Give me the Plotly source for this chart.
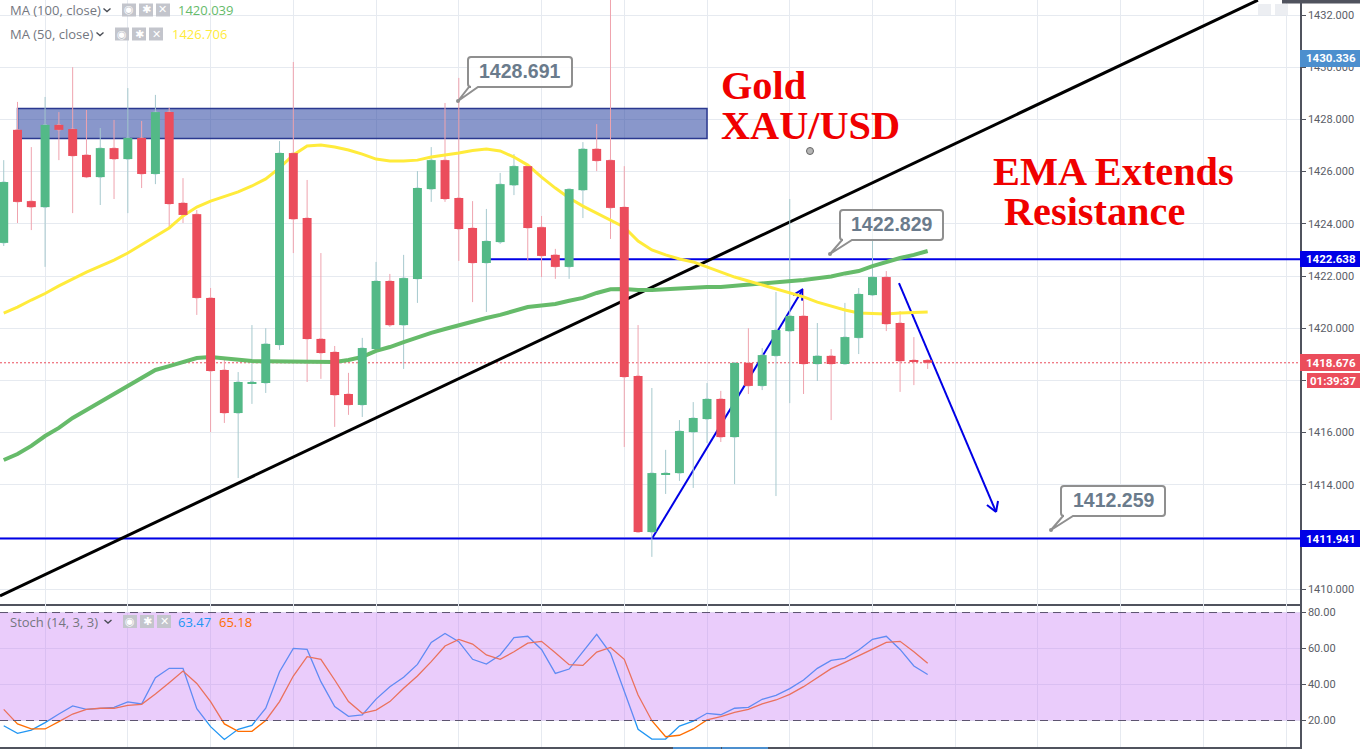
import plotly.graph_objects as go

# ---------- data ----------
bar_index = list(range(68))
opens = [1423.27,1427.60,1424.87,1424.64,1427.79,1427.63,1426.64,1425.79,1426.90,1426.48,
         1427.29,1425.91,1428.28,1424.80,1424.37,1421.16,1418.40,1416.75,1417.90,1417.90,
         1419.36,1426.71,1424.22,1419.59,1419.09,1417.48,1417.06,1419.20,1421.81,1420.12,
         1421.89,1425.33,1426.44,1424.99,1423.84,1422.50,1423.30,1425.48,1426.21,1423.87,
         1422.81,1422.35,1425.29,1426.87,1426.44,1424.64,1418.17,1412.19,1414.41,1414.45,
         1416.02,1416.52,1417.29,1415.83,1418.67,1417.79,1418.94,1419.89,1420.47,1418.63,
         1418.94,1418.63,1419.63,1421.27,1421.96,1420.20,1418.78,1418.78]
highs = [1426.44,1428.67,1426.94,1428.86,1428.28,1430.00,1428.36,1427.67,1427.98,1429.20,
         1427.94,1428.94,1428.44,1425.75,1424.53,1421.54,1418.86,1418.32,1420.12,1420.00,
         1427.17,1430.20,1425.68,1422.88,1419.32,1418.29,1419.63,1422.54,1422.08,1422.81,
         1426.02,1426.94,1428.63,1429.59,1424.87,1424.57,1425.95,1426.67,1426.23,1424.30,
         1423.04,1425.35,1427.13,1427.82,1432.96,1426.21,1420.12,1417.71,1415.34,1416.48,
         1417.17,1417.90,1417.60,1418.69,1420.00,1419.24,1421.39,1424.95,1421.50,1420.20,
         1419.20,1420.97,1421.54,1424.03,1422.19,1420.66,1419.66,1418.80]
lows = [1423.15,1424.03,1423.76,1422.35,1426.44,1424.41,1425.75,1424.72,1424.95,1424.41,
        1425.37,1425.52,1423.80,1424.03,1420.51,1416.02,1416.37,1414.26,1417.10,1417.52,
        1419.17,1422.88,1417.94,1418.06,1416.22,1416.68,1416.60,1419.18,1420.05,1418.44,
        1420.97,1424.84,1424.84,1422.58,1421.00,1420.62,1423.23,1425.10,1422.58,1421.96,
        1421.89,1421.89,1424.22,1426.02,1423.42,1415.45,1412.17,1411.24,1413.65,1414.15,
        1413.88,1415.60,1415.64,1414.03,1417.48,1417.63,1413.57,1417.13,1417.48,1417.98,
        1416.48,1418.61,1419.01,1421.23,1419.89,1417.56,1417.82,1418.44]
closes = [1425.60,1424.84,1424.64,1427.79,1427.60,1426.60,1425.79,1426.90,1426.48,1427.29,
          1425.91,1428.28,1424.76,1424.34,1421.16,1418.36,1416.75,1417.94,1417.94,1419.40,
          1426.71,1424.18,1419.59,1419.05,1417.44,1417.06,1419.24,1421.81,1420.12,1421.92,
          1425.37,1426.44,1424.95,1423.80,1422.50,1423.34,1425.52,1426.21,1423.84,1422.77,
          1422.35,1425.33,1426.87,1426.41,1424.61,1418.13,1412.19,1414.45,1414.45,1416.06,
          1416.56,1417.29,1415.83,1418.67,1417.79,1418.97,1419.93,1420.47,1418.63,1418.94,
          1418.63,1419.66,1421.31,1421.96,1420.16,1418.74,1418.74,1418.676]
ma50 = [1420.58,1420.81,1421.08,1421.33,1421.62,1421.89,1422.15,1422.38,1422.61,1422.88,
        1423.19,1423.53,1423.84,1424.30,1424.64,1424.87,1425.03,1425.22,1425.45,1425.72,
        1426.14,1426.64,1426.98,1427.02,1426.94,1426.83,1426.67,1426.48,1426.41,1426.41,
        1426.44,1426.56,1426.64,1426.71,1426.81,1426.87,1426.79,1426.56,1426.25,1425.79,
        1425.37,1424.99,1424.68,1424.41,1424.15,1423.87,1423.34,1423.00,1422.81,1422.65,
        1422.54,1422.35,1422.15,1421.96,1421.81,1421.66,1421.50,1421.35,1421.20,1421.00,
        1420.85,1420.70,1420.58,1420.56,1420.54,1420.58,1420.60,1420.62]
ma100 = [1414.95,1415.18,1415.49,1415.87,1416.18,1416.56,1416.87,1417.17,1417.48,1417.79,
         1418.09,1418.40,1418.55,1418.71,1418.86,1418.90,1418.84,1418.78,1418.74,1418.73,
         1418.73,1418.74,1418.74,1418.71,1418.71,1418.78,1418.90,1419.13,1419.28,1419.47,
         1419.66,1419.82,1419.97,1420.12,1420.24,1420.39,1420.51,1420.66,1420.81,1420.87,
         1420.93,1421.05,1421.16,1421.35,1421.49,1421.50,1421.46,1421.46,1421.49,1421.52,
         1421.56,1421.58,1421.58,1421.62,1421.66,1421.71,1421.77,1421.81,1421.85,1421.91,
         1421.98,1422.10,1422.19,1422.38,1422.54,1422.69,1422.81,1422.96]
stoch_k = [17.1,12.9,14.7,18.8,23.6,28.1,26.2,26.8,27.3,30.3,29.2,43.8,49.0,49.0,26.6,16.6,9.5,15.1,17.3,26.8,
           47.1,60.1,59.5,41.6,27.7,22.3,23.1,31.9,38.8,44.0,51.2,63.4,68.4,63.8,54.0,51.4,56.4,66.0,66.8,59.5,
           46.2,48.6,58.2,67.9,57.3,36.6,15.1,9.7,9.7,16.9,19.7,24.0,23.2,26.8,27.3,31.8,34.0,37.7,42.5,49.0,
           53.4,54.5,59.2,65.1,66.8,59.5,50.3,45.6]
stoch_d = [26.2,18.1,15.3,15.3,19.4,23.6,26.2,26.8,26.8,28.4,29.0,34.7,41.0,47.5,40.6,30.5,18.1,14.0,14.0,20.0,
           30.5,44.7,55.5,54.0,42.5,30.5,24.0,25.8,30.5,37.9,44.7,52.7,61.4,65.1,62.5,56.4,54.0,58.2,63.0,64.0,
           57.7,51.0,50.6,58.0,60.6,54.0,34.2,19.9,11.0,11.8,15.3,20.3,22.1,24.5,26.2,29.2,31.4,34.5,38.8,44.0,
           48.8,52.3,55.8,59.7,63.4,64.0,58.2,51.8]

price_ticks = list(range(1410, 1433, 2))
stoch_ticks = [20, 40, 60, 80]
grid_bars = list(range(3, 94, 6))

last_price = 1418.676
support_level = 1411.941
resistance_level = 1422.638
band_top = 1428.42
band_bottom = 1427.27
band_bars = [1, 51]
trend_bars = [-0.27, 90.95]
trend_prices = [1409.74, 1432.57]
up_arrow = [(47.01, 1411.94), (57.96, 1421.50)]
up_wings = [(57.24, 1421.27), (57.89, 1421.06)]
down_arrow = [(64.92, 1421.73), (71.96, 1412.96)]
down_wings = [(71.30, 1413.23), (72.10, 1413.38)]

# ---------- style ----------
W_PLOT, H_PLOT = 1300, 747
UP, DOWN = "#53B987", "#EB4D5C"
WICK_UP, WICK_DOWN = "#A6C9CE", "#EFA3AE"
GRID = "#E6EAF0"
AXIS = "#50535E"
BLUE = "#0000E6"
BX0, BX1 = -0.27, 94.0
PRICE_RANGE = [1409.433, 1432.575]
STOCH_RANGE = [5.28, 84.72]
SPLIT = 0.1914
LABEL_FONT = "Open Sans"
DRAW_LAYER = "between"


def px(x):
    return x / W_PLOT


def py(y):
    return 1 - y / H_PLOT


fig = go.Figure()

fig.add_trace(go.Scatter(x=bar_index, y=ma100, mode="lines", line=dict(color="#66BB6A", width=4), hoverinfo="skip"))
fig.add_trace(go.Scatter(x=bar_index, y=ma50, mode="lines", line=dict(color="#FFEB3B", width=3), hoverinfo="skip"))
fig.add_trace(go.Candlestick(
    x=bar_index, open=opens, high=highs, low=lows, close=closes,
    increasing=dict(line=dict(color=WICK_UP, width=1), fillcolor="rgba(0,0,0,0)"),
    decreasing=dict(line=dict(color=WICK_DOWN, width=1), fillcolor="rgba(0,0,0,0)"),
    whiskerwidth=0, hoverinfo="skip"))
bottoms = [min(o, c) for o, c in zip(opens, closes)]
heights = [abs(o - c) for o, c in zip(opens, closes)]
colors = [UP if c >= o else DOWN for o, c in zip(opens, closes)]
fig.add_trace(go.Bar(x=bar_index, y=heights, base=bottoms, width=0.65, marker=dict(color=colors, line=dict(width=0)),
                     yaxis="y3", hoverinfo="skip"))
fig.add_trace(go.Scatter(x=bar_index, y=stoch_k, mode="lines", line=dict(color="#2196F3", width=1.3),
                         xaxis="x2", yaxis="y2", hoverinfo="skip"))
fig.add_trace(go.Scatter(x=bar_index, y=stoch_d, mode="lines", line=dict(color="#FF6D00", width=1.3),
                         xaxis="x2", yaxis="y2", hoverinfo="skip"))

shapes = []
# chart drawings behind the candles
shapes.append(dict(type="rect", xref="x", yref="y", x0=band_bars[0], x1=band_bars[1], y0=band_bottom, y1=band_top,
                   fillcolor="rgba(40,65,160,0.55)", line=dict(color="#2B3990", width=1.5), layer=DRAW_LAYER))
shapes.append(dict(type="line", xref="x", yref="y", x0=BX0, x1=BX1, y0=last_price, y1=last_price,
                   line=dict(color=DOWN, width=1, dash="2px,2px"), layer=DRAW_LAYER))
shapes.append(dict(type="line", xref="x", yref="y", x0=BX0, x1=BX1, y0=support_level, y1=support_level,
                   line=dict(color=BLUE, width=2), layer=DRAW_LAYER))
shapes.append(dict(type="line", xref="x", yref="y", x0=35, x1=BX1, y0=resistance_level, y1=resistance_level,
                   line=dict(color=BLUE, width=2), layer=DRAW_LAYER))
shapes.append(dict(type="line", xref="x", yref="y", x0=trend_bars[0], x1=trend_bars[1],
                   y0=trend_prices[0], y1=trend_prices[1], line=dict(color="#000000", width=3), layer=DRAW_LAYER))
for shaft, wings in ((up_arrow, up_wings), (down_arrow, down_wings)):
    shapes.append(dict(type="line", xref="x", yref="y", x0=shaft[0][0], y0=shaft[0][1], x1=shaft[1][0], y1=shaft[1][1],
                       line=dict(color=BLUE, width=2), layer=DRAW_LAYER))
    for w in wings:
        shapes.append(dict(type="line", xref="x", yref="y", x0=w[0], y0=w[1], x1=shaft[1][0], y1=shaft[1][1],
                           line=dict(color=BLUE, width=2), layer=DRAW_LAYER))

# stochastic band (tints the lines beneath it)
shapes.append(dict(type="rect", xref="paper", yref="y2", x0=0, x1=1, y0=20, y1=80,
                   fillcolor="rgba(200,120,245,0.38)", line=dict(width=0), layer="above"))
for lvl in (20, 80):
    shapes.append(dict(type="line", xref="paper", yref="y2", x0=0, x1=1, y0=lvl, y1=lvl,
                       line=dict(color="#5D5470", width=1, dash="8px,5px"), layer="above"))


# callouts
def callout(x0, y0, x1, y1, dot_x, dot_y, tail_a, tail_b):
    r = 3
    pts = [f"M {px(x0+r)} {py(y0)}", f"L {px(x1-r)} {py(y0)}", f"Q {px(x1)} {py(y0)} {px(x1)} {py(y0+r)}",
           f"L {px(x1)} {py(y1-r)}", f"Q {px(x1)} {py(y1)} {px(x1-r)} {py(y1)}",
           f"L {px(tail_b)} {py(y1)}", f"L {px(dot_x)} {py(dot_y)}", f"L {px(tail_a)} {py(y1)}",
           f"L {px(x0+r)} {py(y1)}", f"Q {px(x0)} {py(y1)} {px(x0)} {py(y1-r)}",
           f"L {px(x0)} {py(y0+r)}", f"Q {px(x0)} {py(y0)} {px(x0+r)} {py(y0)}", "Z"]
    shapes.append(dict(type="path", xref="paper", yref="paper", path=" ".join(pts),
                       fillcolor="rgba(255,255,255,0.82)", line=dict(color="#8F8F8F", width=2), layer="above"))
    shapes.append(dict(type="circle", xref="paper", yref="paper", x0=px(dot_x-2), x1=px(dot_x+2),
                       y0=py(dot_y+2), y1=py(dot_y-2), fillcolor="#8F8F8F", line=dict(width=0), layer="above"))


callout(468, 57, 572, 87, 458, 101, 469, 478)
callout(840, 210, 943, 240, 830, 254, 842, 852)
callout(1061, 486, 1165, 516, 1051, 530, 1063, 1073)
shapes.append(dict(type="circle", xref="paper", yref="paper", x0=px(806.5), x1=px(813.5), y0=py(154.5), y1=py(147.5),
                   fillcolor="#B5B5B5", line=dict(color="#666666", width=1), layer="above"))

# right-hand price tags
tags = [(50, 67, "#4C8FCE", "1430.336", 1300), (251, 267, BLUE, "1422.638", 1300), (354, 371, DOWN, "1418.676", 1300),
        (373, 388, DOWN, "01:39:37", 1307), (530, 547, BLUE, "1411.941", 1300)]
annotations = []


def label(x, y, text, color, size, family=LABEL_FONT, anchor="left", bold=False):
    annotations.append(dict(xref="paper", yref="paper", x=px(x), y=py(y), text=f"<b>{text}</b>" if bold else text,
                            showarrow=False, xanchor=anchor, yanchor="middle", xshift=0,
                            font=dict(color=color, size=size, family=family), borderpad=0, borderwidth=0))


for y0, y1, c, t, x0 in tags:
    shapes.append(dict(type="rect", xref="paper", yref="paper", x0=px(x0), x1=px(1360), y0=py(y1), y1=py(y0),
                       fillcolor=c, line=dict(width=0), layer="above"))
    label(1331 if x0 == 1300 else 1333, (y0 + y1) / 2, t, "#FFFFFF", 11.5, "Roboto", "center", True)

# top-right fragment of the toolbar
shapes.append(dict(type="rect", xref="paper", yref="paper", x0=px(1282), x1=px(1360), y0=py(3.5), y1=py(0),
                   fillcolor=AXIS, line=dict(width=0), layer="above"))
for x0 in (1258, 1275):
    shapes.append(dict(type="rect", xref="paper", yref="paper", x0=px(x0), x1=px(x0 + 13), y0=py(15), y1=py(4),
                       fillcolor="#ECEEF2", line=dict(width=0), layer="above"))
# bottom time-axis fragments
for x0, x1, c in ((411, 505, AXIS), (673, 721, "#4C8FCE"), (722, 768, "#4C8FCE")):
    shapes.append(dict(type="rect", xref="paper", yref="paper", x0=px(x0), x1=px(x1), y0=py(749), y1=py(747),
                       fillcolor=c, line=dict(width=0), layer="above"))


# legend rows
def legend_row(name, y, chev_x, icon_x, values):
    label(10, y, name, "#74777F", 13)
    xs = [chev_x - 3.5, chev_x, chev_x + 3.5]
    shapes.append(dict(type="path", xref="paper", yref="paper", line=dict(color="#4A4D55", width=1.4), layer="above",
                       path=f"M {px(xs[0])} {py(y-1.5)} L {px(xs[1])} {py(y+1.5)} L {px(xs[2])} {py(y-1.5)}"))
    for k, glyph in enumerate(("◉", "✱", "✕")):
        x0 = icon_x + 17 * k
        shapes.append(dict(type="rect", xref="paper", yref="paper", x0=px(x0), x1=px(x0 + 14), y0=py(y + 6.5), y1=py(y - 6.5),
                           fillcolor="#C3C5CC", line=dict(width=0), layer="above"))
        label(x0 + 7, y, glyph, "#FFFFFF", 11, "DejaVu Sans", "center")
    for vx, text, color in values:
        label(vx, y, text, color, 13)


legend_row("MA (100, close)", 10, 107, 122, [(178, "1420.039", "#66BB6A")])
legend_row("MA (50, close)", 34, 100, 115, [(172, "1426.706", "#FFEB3B")])
legend_row("Stoch (14, 3, 3)", 621.5, 108, 123, [(178, "63.47", "#2196F3"), (219, "65.18", "#FF6D00")])

# callout numbers and headlines
for x, y, t in ((519, 71, "1428.691"), (891, 224, "1422.829"), (1113, 500, "1412.259")):
    label(x, y, t, "#6A7B8C", 19.5, "Liberation Sans", "center", True)
RED = "#F00000"
for x, y, t in ((721, 86, "Gold"), (721, 126, "XAU/USD"), (993, 172, "EMA Extends"), (1004, 212, "Resistance")):
    label(x, y, t, RED, 40.3, "Liberation Serif", "left", True)

axis_font = dict(color="#5A5D66", size=11, family="Roboto")
fig.update_layout(
    width=1360, height=749, margin=dict(l=0, r=60, t=0, b=2),
    paper_bgcolor="#FFFFFF", plot_bgcolor="#FFFFFF", showlegend=False, boxgap=0.6,
    shapes=shapes, annotations=annotations, hovermode=False, dragmode=False,
    xaxis=dict(domain=[0, 1], range=[BX0, BX1], anchor="y", tickmode="array", tickvals=grid_bars, showticklabels=False,
               ticks="", showgrid=True, gridcolor=GRID, gridwidth=1, showline=True, linecolor=AXIS, linewidth=2,
               zeroline=False, rangeslider=dict(visible=False)),
    xaxis2=dict(domain=[0, 1], range=[BX0, BX1], anchor="y2", matches="x", tickmode="array", tickvals=grid_bars,
                showticklabels=False, ticks="", showgrid=True, gridcolor=GRID, gridwidth=1, showline=True,
                linecolor=AXIS, linewidth=2, zeroline=False),
    yaxis=dict(domain=[SPLIT, 1], range=PRICE_RANGE, side="right", anchor="x", tickmode="array", tickvals=price_ticks,
               tickformat=".3f", ticks="outside", ticklen=4, tickcolor=AXIS, tickfont=axis_font, showgrid=True,
               gridcolor=GRID, gridwidth=1, showline=True, linecolor=AXIS, linewidth=1.5, zeroline=False),
    yaxis2=dict(domain=[0, SPLIT], range=STOCH_RANGE, side="right", anchor="x2", tickmode="array", tickvals=stoch_ticks,
                tickformat=".2f", ticks="outside", ticklen=4, tickcolor=AXIS, tickfont=axis_font, showgrid=True,
                gridcolor=GRID, gridwidth=1, showline=True, linecolor=AXIS, linewidth=1.5, zeroline=False),
    yaxis3=dict(domain=[SPLIT, 1], range=PRICE_RANGE, overlaying="y", side="right", anchor="x", visible=False),
)

fig.write_html("out.html", config={"displayModeBar": False}, post_script="document.body.style.margin='0';")
